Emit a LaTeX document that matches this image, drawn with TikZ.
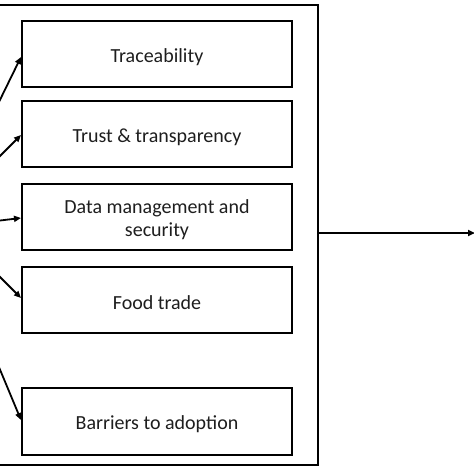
\documentclass[tikz,border=0pt]{standalone}
\usepackage{fontspec}
\setmainfont{Carlito}
\usetikzlibrary{arrows.meta}
\definecolor{txt}{HTML}{1E1E1E}
\begin{document}
\begin{tikzpicture}[x=1pt,y=-1pt,
  item/.style={draw=black, line width=2pt, minimum width=270pt, inner sep=0pt},
  lbl/.style={text=txt, font=\fontsize{20}{23}\selectfont, align=center, yshift=-3pt},
  conn/.style={line width=1.8pt, -{Triangle[length=7pt,width=6pt]}}]
\useasboundingbox (0,0) rectangle (474,474);
\fill[white] (0,0) rectangle (474,474);
\clip (0,0) rectangle (474,474);
\draw[line width=2pt] (-10,5) rectangle (318,465);
\node[item, minimum height=66pt, label={[lbl]center:Traceability}] (b1) at (157,54) {};
\node[item, minimum height=66pt, label={[lbl]center:Trust \& transparency}] (b2) at (157,134) {};
\node[item, minimum height=66pt, label={[lbl]center:Data management and\\security}] (b3) at (157,217) {};
\node[item, minimum height=66pt, label={[lbl]center:Food trade}] (b4) at (157,300) {};
\node[item, minimum height=67pt, label={[lbl]center:Barriers to adoption}] (b5) at (157,421.5) {};
\coordinate (s1) at (-4,108);
\coordinate (s2) at (-4,160);
\coordinate (s3) at (-4,221);
\coordinate (s4) at (-4,273);
\coordinate (s5) at (-4,360);
\coordinate (o1) at (318,233);
\coordinate (o2) at (475,233);
\draw[conn] (s1) -- (b1.west |- 0,57);
\draw[conn] (s2) -- (b2.west |- 0,135);
\draw[conn] (s3) -- (b3.west |- 0,218);
\draw[conn] (s4) -- (b4.west |- 0,298);
\draw[conn] (s5) -- (b5.west |- 0,420);
\draw[conn] (o1) -- (o2);
\end{tikzpicture}
\end{document}
